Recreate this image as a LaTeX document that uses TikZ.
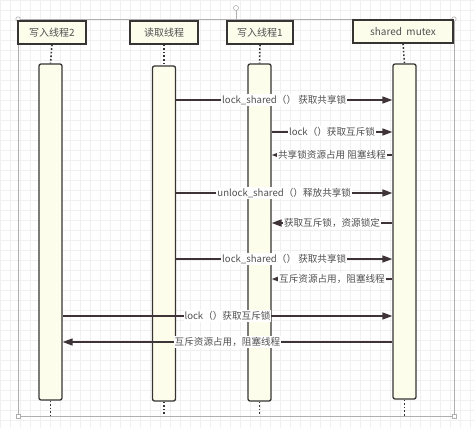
\documentclass[tikz,border=0pt]{standalone}
\usepackage{fontspec}
\setmainfont{Noto Sans CJK SC}
\usetikzlibrary{arrows.meta}
\definecolor{cream}{RGB}{253,253,236}
\definecolor{gridc}{RGB}{240,240,240}
\definecolor{edge}{RGB}{55,52,52}
\definecolor{msgc}{RGB}{62,52,56}
\definecolor{txt}{RGB}{80,80,80}
\definecolor{selc}{RGB}{175,175,175}
\tikzset{
  hdr/.style={draw=edge, line width=1.3pt, fill=cream, minimum height=23pt, inner sep=0pt, font=\fontsize{10}{11}\selectfont, text=txt},
  actbar/.style={draw=edge, line width=1.3pt, fill=cream, rounded corners=2pt, minimum width=23pt, inner sep=0pt},
  life/.style={draw=edge, line width=1.6pt, dotted},
  msg/.style={draw=msgc, line width=1.6pt, -{Triangle[length=10pt,width=7pt]}},
  lbl/.style={fill=white, inner sep=1pt, text=txt, font=\fontsize{9.6}{11}\selectfont},
  handle/.style={draw=selc, fill=white, line width=0.6pt}
}
\begin{document}
\begin{tikzpicture}[x=1pt,y=-1pt]
\useasboundingbox (0,0) rectangle (474,428);
\fill[white] (0,0) rectangle (474,428);
\draw[gridc, line width=0.4pt, step=10pt] (0,0) grid (474,428);
% selection frame
\draw[selc, line width=0.6pt] (18,19) rectangle (454,416);
\draw[selc, line width=0.6pt] (236,10.5) -- (236,19);
\draw[handle] (236,8) circle (2.5pt);
\draw[handle] (18,19) circle (2.2pt);
\draw[handle] (454,19) circle (2.2pt);
\draw[handle] (16,414) rectangle (20,418);
\draw[handle] (452,414) rectangle (456,418);
% headers
\node[hdr, minimum width=68pt] (h1) at (52,32.5) {写入线程2};
\node[hdr, minimum width=68pt] (h2) at (164,32.5) {读取线程};
\node[hdr, minimum width=66pt] (h3) at (260,32.5) {写入线程1};
\node[hdr, minimum width=100pt] (h4) at (403,31.5) {shared\ \ mutex};
% activation bars
\node[actbar, minimum height=336pt] (b1) at (50.5,232) {};
\node[actbar, minimum height=335pt] (b2) at (164,233.5) {};
\node[actbar, minimum height=337pt] (b3) at (259.5,232.5) {};
\node[actbar, minimum height=335pt] (b4) at (404.5,231.5) {};
% end points of lifelines
\coordinate (e1) at (b1.south |- 0,416);
\coordinate (e2) at (b2.south |- 0,416);
\coordinate (e3) at (b3.south |- 0,416);
\coordinate (e4) at (b4.south |- 0,416);
\draw[life] (h1.south) -- (b1.north);
\draw[life] (h2.south) -- (b2.north);
\draw[life] (h3.south) -- (b3.north);
\draw[life] (h4.south) -- (b4.north);
\draw[life] (b1.south) -- (e1);
\draw[life] (b2.south) -- (e2);
\draw[life] (b3.south) -- (e3);
\draw[life] (b4.south) -- (e4);
% messages
\draw[msg] (b2.east |- 0,100) -- node[lbl]{lock\_shared（） 获取共享锁} (b4.west |- 0,100);
\draw[msg] (b3.east |- 0,132) -- node[lbl]{lock（）获取互斥锁} (b4.west |- 0,132);
\draw[msg] (b4.west |- 0,155) -- node[lbl]{共享锁资源占用 阻塞线程} (b3.east |- 0,155);
\draw[msg] (b2.east |- 0,193) -- node[lbl]{unlock\_shared（）释放共享锁} (b4.west |- 0,193);
\draw[msg] (b4.west |- 0,223) -- node[lbl]{获取互斥锁，资源锁定} (b3.east |- 0,223);
\draw[msg] (b2.east |- 0,259) -- node[lbl]{lock\_shared（） 获取共享锁} (b4.west |- 0,259);
\draw[msg] (b4.west |- 0,279) -- node[lbl]{互斥资源占用，阻塞线程} (b3.east |- 0,279);
\draw[msg] (b1.east |- 0,316) -- node[lbl]{lock（）获取互斥锁} (b4.west |- 0,316);
\draw[msg] (b4.west |- 0,342) -- node[lbl]{互斥资源占用，阻塞线程} (b1.east |- 0,342);
\end{tikzpicture}
\end{document}
